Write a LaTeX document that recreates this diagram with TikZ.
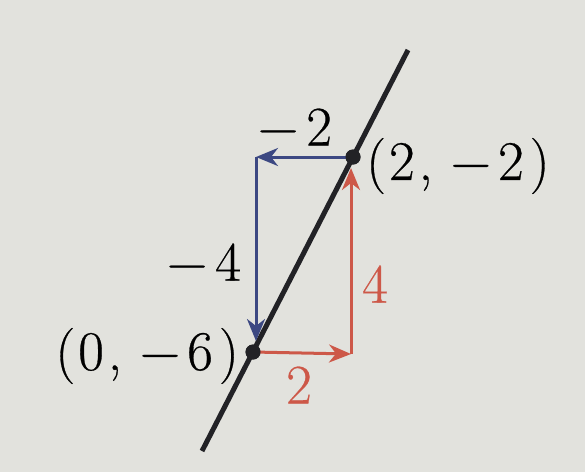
\documentclass[tikz,border=0pt]{standalone}
\usepackage{fontspec}
\newfontfamily\lblfont{Latin Modern Roman}[FakeBold=0.5]
\usetikzlibrary{arrows.meta}
\definecolor{paper}{RGB}{226,226,221}
\definecolor{vblue}{RGB}{60,72,130}
\definecolor{vred}{RGB}{205,88,72}
\definecolor{ink}{RGB}{34,34,38}
\begin{document}
\begin{tikzpicture}[x=1pt,y=-1pt,
  dot/.style={circle,fill=ink,inner sep=0pt,minimum size=15},
  lbl/.style={font=\lblfont\fontsize{56}{60}\selectfont,inner sep=0pt},
  bluearrow/.style={vblue,line width=3,-{Stealth[length=22,width=18,inset=7]}},
  redarrow/.style={vred,line width=3,-{Stealth[length=22,width=18,inset=7]}},
  mainline/.style={ink,line width=5}]
\fill[paper] (0,0) rectangle (585,472);
\useasboundingbox (0,0) rectangle (585,472);
\coordinate (top) at (408,50);
\coordinate (bot) at (202,451);
\node[dot] (p1) at (253,352) {};
\node[dot] (p2) at (353,157) {};
\coordinate (cb) at (256,157);
\coordinate (cr) at (351,354);
\draw[mainline] (bot) -- (top);
% red path
\draw[redarrow] (p1.center) -- (cr);
\draw[vred,line width=3] (cr) -- ++(0,-2);
\draw[redarrow,shorten >=11] (cr) -- (351,157);
% blue path
\draw[bluearrow] (p2.center) -- (cb);
\draw[bluearrow,shorten >=11] (cb) -- (256,352);
\node[dot] at (p1) {};
\node[dot] at (p2) {};
% labels
\node[lbl,anchor=west] (l2) at (366,166) {(\kern3pt2\kern4pt,\hspace{18pt}−\kern7pt2\kern6pt)};
\node[lbl,anchor=east] (l0) at (239,356) {(\kern3pt0\kern4pt,\hspace{18pt}−\kern7pt6\kern6pt)};
\node[lbl] (lm2) at (295,127) {−\kern8pt2};
\node[lbl] (lm4) at (204,262) {−\kern8pt4};
\node[lbl,text=vred] (l4) at (375,284) {4};
\node[lbl,text=vred] (lr2) at (299,385) {2};
\end{tikzpicture}
\end{document}
